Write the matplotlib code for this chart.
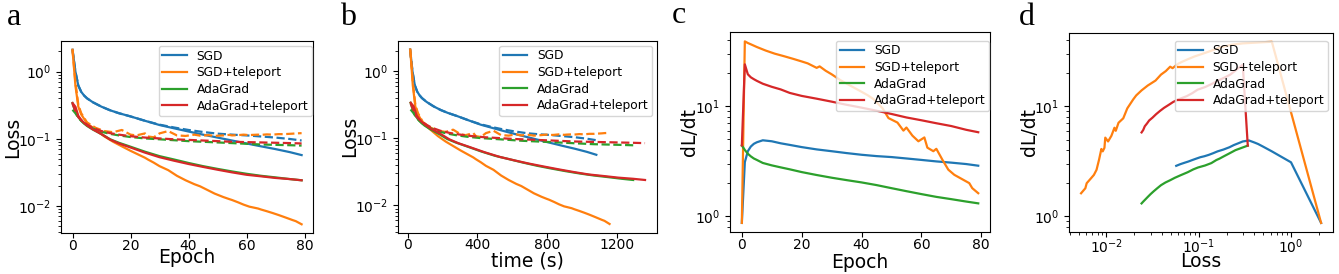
# Loss / dL/dt curves for SGD and AdaGrad, with and without teleport (panels a-d)

import numpy as np
import matplotlib
matplotlib.use('Agg')
import matplotlib.pyplot as plt

labels = ['SGD', 'SGD+teleport', 'AdaGrad', 'AdaGrad+teleport']
colors = ['tab:blue', 'tab:orange', 'tab:green', 'tab:red']
epoch_time = [13.55, 14.5, 16.2, 17.05]  # seconds per epoch

# epochs sampled for SGD / AdaGrad / AdaGrad+teleport
ep = [0, 1, 2, 3, 4, 5, 7, 10, 13, 16, 20, 25, 30, 35, 40, 45, 50, 55, 60, 65, 70, 75, 79]
# epochs sampled for SGD+teleport (bumpier curves)
ep_tel = [0, 1, 2, 3, 5, 8, 11, 14, 17, 20, 22, 25, 26, 28, 30, 33, 36, 39, 42, 44, 47, 49,
          52, 54, 55, 57, 59, 61, 62, 64, 65, 67, 69, 71, 73, 76, 77, 79]

# training loss (solid)
sgd_train = [2.12, 1.0, 0.62, 0.5, 0.44, 0.40, 0.35, 0.30, 0.265, 0.24, 0.215, 0.185, 0.16,
             0.143, 0.128, 0.115, 0.104, 0.094, 0.085, 0.077, 0.07, 0.063, 0.057]
tel_train = [2.12, 0.62, 0.30, 0.23, 0.17, 0.135, 0.108, 0.09, 0.077, 0.066, 0.060, 0.052, 0.049,
             0.044, 0.039, 0.034, 0.028, 0.024, 0.021, 0.0195, 0.0168, 0.0152, 0.0135, 0.0126,
             0.0122, 0.0113, 0.0104, 0.0097, 0.0095, 0.0091, 0.0088, 0.0083, 0.0078, 0.0073,
             0.0068, 0.0061, 0.0059, 0.0053]
ada_train = [0.34, 0.25, 0.21, 0.185, 0.168, 0.155, 0.137, 0.117, 0.098, 0.087, 0.076, 0.064,
             0.055, 0.049, 0.0435, 0.039, 0.0355, 0.0325, 0.030, 0.028, 0.0265, 0.025, 0.024]
adatel_train = [0.34, 0.30, 0.22, 0.19, 0.172, 0.158, 0.138, 0.117, 0.097, 0.085, 0.074, 0.062,
                0.053, 0.047, 0.042, 0.038, 0.0345, 0.0315, 0.029, 0.0275, 0.026, 0.025, 0.024]

# test loss (dashed)
sgd_test = [2.12, 1.0, 0.62, 0.5, 0.44, 0.40, 0.35, 0.30, 0.265, 0.24, 0.215, 0.185, 0.162,
            0.147, 0.135, 0.126, 0.119, 0.115, 0.112, 0.108, 0.104, 0.099, 0.094]
tel_test = [2.12, 0.7, 0.32, 0.24, 0.175, 0.145, 0.13, 0.125, 0.135, 0.115, 0.112, 0.12, 0.108,
            0.105, 0.12, 0.13, 0.112, 0.11, 0.115, 0.111, 0.113, 0.11, 0.112, 0.114, 0.112,
            0.113, 0.115, 0.113, 0.114, 0.115, 0.114, 0.116, 0.115, 0.117, 0.117, 0.119, 0.12, 0.121]
ada_test = [0.27, 0.24, 0.205, 0.185, 0.17, 0.16, 0.142, 0.127, 0.118, 0.112, 0.106, 0.101,
            0.098, 0.095, 0.092, 0.09, 0.088, 0.086, 0.084, 0.082, 0.081, 0.08, 0.079]
adatel_test = [0.33, 0.26, 0.21, 0.19, 0.175, 0.163, 0.145, 0.13, 0.121, 0.115, 0.109, 0.104,
               0.101, 0.098, 0.096, 0.094, 0.092, 0.09, 0.089, 0.088, 0.087, 0.086, 0.085]

# dL/dt
sgd_dldt = [0.87, 3.1, 3.9, 4.3, 4.55, 4.7, 4.9, 4.8, 4.6, 4.45, 4.25, 4.05, 3.9, 3.75, 3.62,
            3.52, 3.45, 3.35, 3.25, 3.15, 3.07, 2.98, 2.88]
tel_dldt = [0.87, 38.8, 37.5, 36.5, 34.5, 32, 30, 28.5, 27, 25.5, 24.5, 22.3, 23.0, 21, 19.5,
            17.2, 15.5, 14, 12.6, 11.6, 9.6, 7.8, 7.1, 6.0, 6.4, 5.4, 4.8, 5.2, 4.2, 3.9, 4.1,
            3.27, 2.65, 2.38, 2.22, 2.0, 1.8, 1.62]
ada_dldt = [4.4, 4.0, 3.7, 3.5, 3.35, 3.25, 3.05, 2.9, 2.78, 2.67, 2.52, 2.37, 2.24, 2.13, 2.03,
            1.92, 1.8, 1.69, 1.59, 1.5, 1.43, 1.36, 1.31]
adatel_dldt = [4.4, 24, 19.5, 18.3, 17.6, 17, 16, 15, 14.2, 13.2, 12.4, 11.7, 11.0, 10.3, 9.7,
               9.1, 8.5, 7.9, 7.45, 7.0, 6.6, 6.1, 5.8]

epochs = [ep, ep_tel, ep, ep]
train = [sgd_train, tel_train, ada_train, adatel_train]
test = [sgd_test, tel_test, ada_test, adatel_test]
dldt = [sgd_dldt, tel_dldt, ada_dldt, adatel_dldt]

lw = 1.6
fs_lab = 13.5
fs_tick = 10
fs_leg = 8.8

fig = plt.figure(figsize=(13.39, 2.74), dpi=100)
ax_a = fig.add_axes([0.0456, 0.1496, 0.1882, 0.7007])
ax_b = fig.add_axes([0.2975, 0.1507, 0.1930, 0.7007])
ax_c = fig.add_axes([0.5452, 0.1533, 0.1942, 0.7288])
ax_d = fig.add_axes([0.7984, 0.1533, 0.1972, 0.7274])

for i in range(4):
    e = np.array(epochs[i])
    t = (e + 1) * epoch_time[i]
    # a: loss vs epoch
    ax_a.plot(e, train[i], color=colors[i], lw=lw, label=labels[i])
    ax_a.plot(e, test[i], color=colors[i], lw=lw, ls='--')
    # b: loss vs time
    ax_b.plot(t, train[i], color=colors[i], lw=lw, label=labels[i])
    ax_b.plot(t, test[i], color=colors[i], lw=lw, ls='--')
    # c: dL/dt vs epoch
    ax_c.plot(e, dldt[i], color=colors[i], lw=lw, label=labels[i])
    # d: dL/dt vs loss
    ax_d.plot(train[i], dldt[i], color=colors[i], lw=lw, label=labels[i])

for ax in [ax_a, ax_b, ax_c, ax_d]:
    ax.set_yscale('log')
    ax.tick_params(labelsize=fs_tick)
    ax.tick_params(axis='x', pad=0.5)
ax_d.set_xscale('log')
ax_b.set_xticks([0, 400, 800, 1200])

# axis labels, placed by hand (axes fractions)
lab = [(ax_a, 'Epoch', 'Loss', -0.080, -0.155),
       (ax_b, 'time (s)', 'Loss', -0.098, -0.150),
       (ax_c, 'Epoch', 'dL/dt', -0.104, -0.118),
       (ax_d, 'Loss', 'dL/dt', -0.102, -0.112)]
for ax, xl, yl, xy, yx in lab:
    ax.set_xlabel(xl, fontsize=fs_lab)
    ax.set_ylabel(yl, fontsize=fs_lab)
    ax.xaxis.set_label_coords(0.5, xy)
    ax.yaxis.set_label_coords(yx, 0.5)

leg_pos = {ax_a: (0.996, 0.974), ax_b: (0.983, 0.974), ax_c: (0.997, 0.958), ax_d: (0.98, 0.96)}
for ax, pos in leg_pos.items():
    ax.legend(loc='upper right', bbox_to_anchor=pos, borderaxespad=0, fontsize=fs_leg,
              labelspacing=0.3, borderpad=0.3)

# panel letters
for letter, x, y in [('a', 7, 25), ('b', 340, 25), ('c', 672, 23), ('d', 1019, 25)]:
    fig.text(x / 1339, 1 - y / 274, letter, fontsize=23, family='Liberation Serif', va='baseline')

plt.savefig('out.png', dpi=100)
